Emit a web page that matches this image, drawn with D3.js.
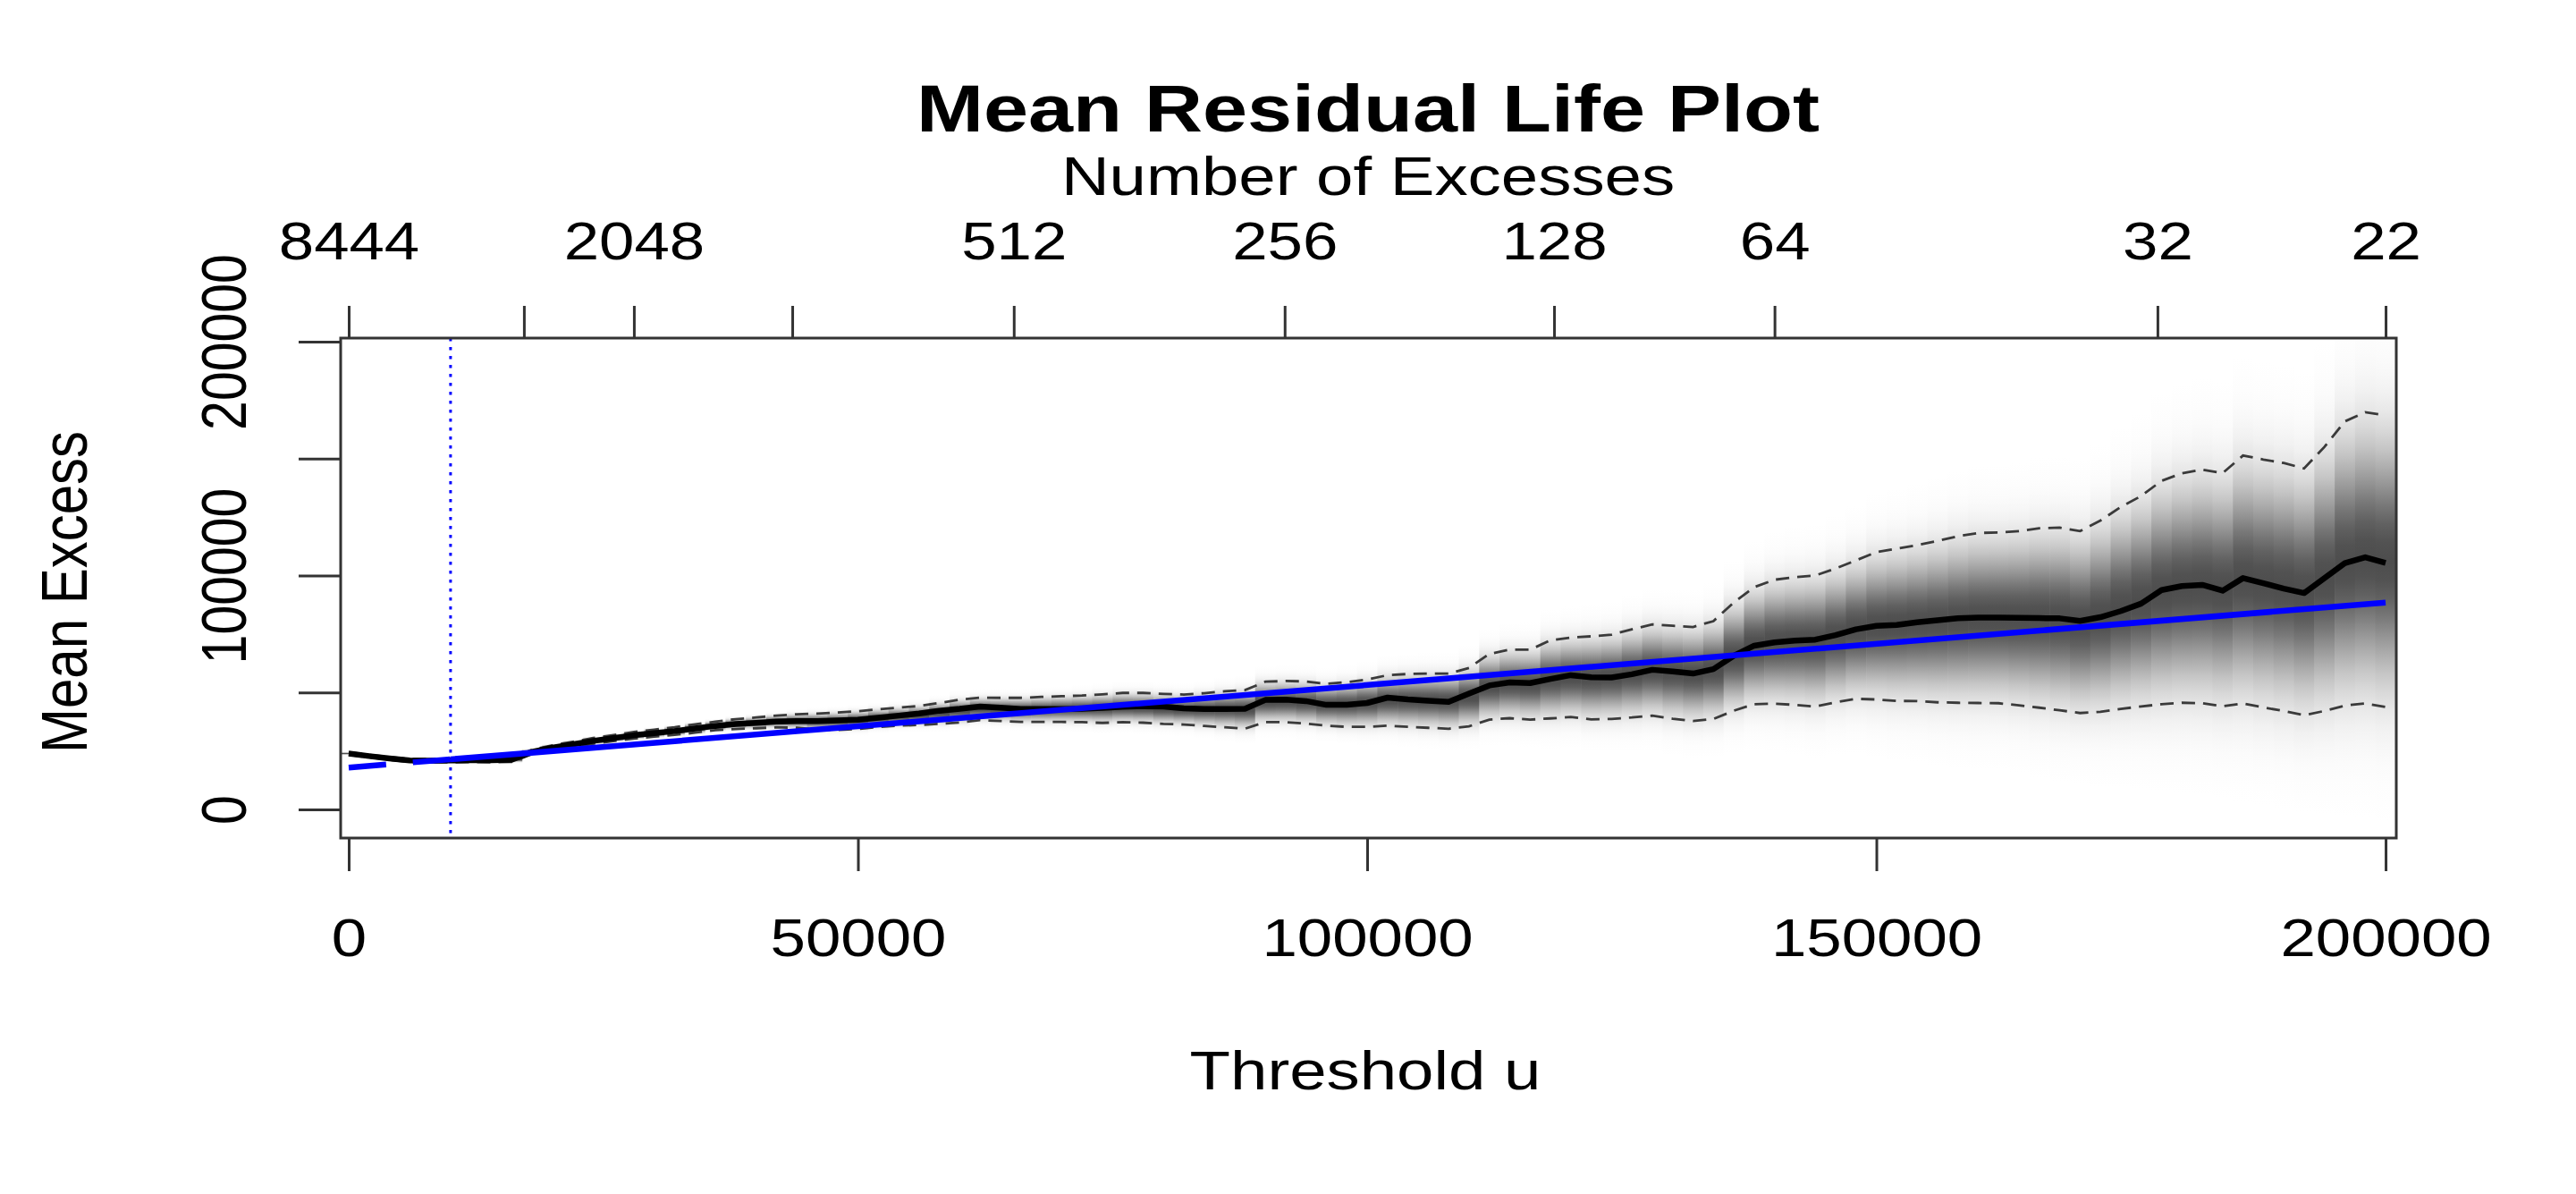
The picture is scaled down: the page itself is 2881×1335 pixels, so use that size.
<!DOCTYPE html>
<html>
<head>
<meta charset="utf-8">
<script src="https://cdn.jsdelivr.net/npm/d3@7"></script>
<style>
  body { margin: 0; background: #fff; }
  text { font-family: "Liberation Sans", Arial, sans-serif; fill: #000; }
</style>
</head>
<body>
<div id="chart"></div>
<script>
// thresholds u at which the mean excess was evaluated
var thresholds = [
  0,2000,4000,6000,8000,10000,12000,14000,16000,18000,
  20000,22000,24000,26000,28000,30000,32000,34000,36000,38000,
  40000,42000,44000,46000,48000,50000,52000,54000,56000,58000,
  60000,62000,64000,66000,68000,70000,72000,74000,76000,78000,
  80000,82000,84000,86000,88000,90000,92000,94000,96000,98000,
  100000,102000,104000,106000,108000,110000,112000,114000,116000,118000,
  120000,122000,124000,126000,128000,130000,132000,134000,136000,138000,
  140000,142000,144000,146000,148000,150000,152000,154000,156000,158000,
  160000,162000,164000,166000,168000,170000,172000,174000,176000,178000,
  180000,182000,184000,186000,188000,190000,192000,194000,196000,198000,
  200000];

// empirical mean excess (black line)
var meanExcess = [
  23900,22800,21800,20900,20800,20900,21000,21000,21200,24600,
  26400,27800,29300,30500,31700,32600,33500,34600,35700,36500,
  37000,37600,37800,37800,38000,38300,39200,40100,41000,42200,
  43000,44000,43500,42900,42900,42900,43000,43400,43900,44100,
  44000,43200,42900,42900,43000,46800,46900,46300,44700,44700,
  45500,47800,47000,46500,46000,49500,53000,54300,54000,55800,
  57400,56500,56400,57800,59700,59000,58100,60000,65700,70000,
  71400,72150,72600,74500,77000,78500,78900,80000,80900,81700,
  82000,82000,81900,81800,81700,80600,82200,84800,88000,93800,
  95500,96000,93500,98900,96700,94400,92500,98900,105300,107800,
  105400];

// 95% confidence limits (dashed lines)
var ciUpper = [
  24400,23350,22400,21550,21500,21650,21800,21850,22100,25550,
  27400,28900,30500,31800,33100,34100,35150,36400,37500,38600,
  39300,40100,40700,41000,41400,42000,42800,43500,44200,45500,
  46900,47800,47700,47700,48100,48400,48700,49200,49800,49800,
  49400,49100,49700,50500,51000,54600,54900,54700,53700,54400,
  55500,57400,57900,58100,58100,60500,66500,68300,68300,72300,
  73500,74000,74700,77000,79100,78500,78000,80500,88500,95000,
  98200,99300,100000,103000,106500,110000,111500,113000,114800,116800,
  118200,118400,119000,120200,120500,119000,123500,129300,134000,140500,
  143700,145300,143800,151300,149600,148100,145800,155000,165900,169800,
  168500];

var ciLower = [
  23400,22250,21200,20250,20100,20150,20200,20150,20300,23650,
  25400,26700,28100,29200,30300,31100,31850,32800,33900,34400,
  34700,35100,34900,34200,34000,34400,35200,35800,36100,36600,
  37200,38200,37800,37400,37400,37400,37300,37000,37300,37100,
  36600,36300,35700,35100,34500,37300,37300,36700,35800,35300,
  35300,35800,35300,34900,34500,35500,38400,39000,38400,38900,
  39500,38500,38700,39300,40100,38800,37800,38700,42200,45000,
  45200,44700,44000,45800,47300,47000,46400,46300,45800,45600,
  45500,45400,44500,43500,42400,41200,41700,43000,44000,45000,
  45600,45400,44100,45300,43600,42100,40300,42100,44400,45300,
  43800];

// fitted GPD mean excess for the trial threshold (blue line)
var tryThresh = 10000;
var fitU  = [0, 10000, 200000];
var fitME = [17900, 21430, 88460];

// top axis: number of excesses above threshold
var excessTicks  = [0, 17200, 28000, 43550, 65300, 91900, 118350, 140000, 177600, 200000];
var excessLabels = ["8444", "", "2048", "", "512", "256", "128", "64", "32", "22"];

var xTicks = [0, 50000, 100000, 150000, 200000];
var yTicks = [0, 50000, 100000, 150000, 200000];
var yTickLabels = ["0", "", "100000", "", "200000"];

var W = 2881, H = 1335;
var box = {left: 381, right: 2680, top: 378, bottom: 937};
var SX = 1.2; // glyphs in the picture are stretched horizontally

var svg = d3.select("#chart").append("svg")
    .attr("width", W)
    .attr("height", H);

svg.append("rect").attr("width", W).attr("height", H).attr("fill", "#fff");

var x = d3.scaleLinear().domain([-790, 201050]).range([box.left, box.right]);
var y = d3.scaleLinear().domain([-12240, 201530]).range([box.bottom, box.top]);

var defs = svg.append("defs");
defs.append("clipPath").attr("id", "plotclip")
  .append("rect")
    .attr("x", box.left).attr("y", box.top)
    .attr("width", box.right - box.left)
    .attr("height", box.bottom - box.top);

// one vertical gradient shared by all strips (normal density, +-3.5 sd)
var grad = defs.append("linearGradient")
    .attr("id", "dens")
    .attr("x1", 0).attr("y1", 0).attr("x2", 0).attr("y2", 1);
for (var k = 0; k <= 28; k++) {
  var z = -3.5 + k * 0.25;
  var g = 1 - 0.7 * Math.exp(-z * z / 2);
  var c = Math.round(g * 255);
  grad.append("stop")
    .attr("offset", (k / 28))
    .attr("stop-color", d3.rgb(c, c, c).formatHex());
}

var plot = svg.append("g").attr("clip-path", "url(#plotclip)");

var data = thresholds.map(function(u, i) {
  return {u: u, m: meanExcess[i], lo: ciLower[i], hi: ciUpper[i], i: i};
});

// sampling density strips
plot.selectAll("rect.strip")
  .data(data)
  .enter()
  .append("rect")
    .attr("class", "strip")
    .attr("x", function(d) {
      var prev = d.i > 0 ? thresholds[d.i - 1] : d.u - (thresholds[1] - thresholds[0]);
      return x((prev + d.u) / 2);
    })
    .attr("width", function(d) {
      var prev = d.i > 0 ? thresholds[d.i - 1] : d.u - (thresholds[1] - thresholds[0]);
      var next = d.i < thresholds.length - 1 ? thresholds[d.i + 1] : d.u + (thresholds[1] - thresholds[0]);
      return x((d.u + next) / 2) - x((prev + d.u) / 2) + 0.6;
    })
    .attr("y", function(d) {
      var mid = (d.lo + d.hi) / 2, sd = (d.hi - d.lo) / 3.92;
      return y(mid + 3.5 * sd);
    })
    .attr("height", function(d) {
      var mid = (d.lo + d.hi) / 2, sd = (d.hi - d.lo) / 3.92;
      return y(mid - 3.5 * sd) - y(mid + 3.5 * sd);
    })
    .attr("fill", "url(#dens)");

var line = d3.line()
    .x(function(d) { return x(d[0]); })
    .y(function(d) { return y(d[1]); });

// confidence limits
[ciUpper, ciLower].forEach(function(ci) {
  plot.append("path")
    .datum(thresholds.map(function(u, i) { return [u, ci[i]]; }))
    .attr("d", line)
    .attr("fill", "none")
    .attr("stroke", "#3a3a3a")
    .attr("stroke-width", 2.8)
    .attr("stroke-dasharray", "15,9");
});

// mean excess
plot.append("path")
  .datum(thresholds.map(function(u, i) { return [u, meanExcess[i]]; }))
  .attr("d", line)
  .attr("fill", "none")
  .attr("stroke", "#000")
  .attr("stroke-width", 6.5)
  .attr("stroke-linejoin", "round");

// trial threshold
plot.append("line")
  .attr("x1", x(tryThresh)).attr("x2", x(tryThresh))
  .attr("y1", box.top).attr("y2", box.bottom)
  .attr("stroke", "#0000ff")
  .attr("stroke-width", 3)
  .attr("stroke-dasharray", "3.5,6.5");

// fitted line: dashed below the trial threshold, solid above
var fitPts = fitU.map(function(u, i) { return [u, fitME[i]]; });
plot.append("path")
  .datum(fitPts.filter(function(p) { return p[0] <= tryThresh; }))
  .attr("d", line)
  .attr("fill", "none")
  .attr("stroke", "#0000ff")
  .attr("stroke-width", 6.5)
  .attr("stroke-dasharray", "42,30");
plot.append("path")
  .datum(fitPts.filter(function(p) { return p[0] >= tryThresh; }))
  .attr("d", line)
  .attr("fill", "none")
  .attr("stroke", "#0000ff")
  .attr("stroke-width", 6.5);

// frame
svg.append("rect")
  .attr("x", box.left).attr("y", box.top)
  .attr("width", box.right - box.left)
  .attr("height", box.bottom - box.top)
  .attr("fill", "none")
  .attr("stroke", "#333")
  .attr("stroke-width", 3);

function styleAxis(g) {
  g.attr("font-size", 59)
   .attr("font-family", "'Liberation Sans', Arial, sans-serif")
   .attr("color", "#333");
  g.select(".domain").remove();
  g.selectAll(".tick line").attr("stroke-width", 3);
  g.selectAll(".tick text").attr("fill", "#000");
}

// bottom axis
var gx = svg.append("g")
  .attr("transform", "translate(0," + box.bottom + ")")
  .call(d3.axisBottom(x).tickValues(xTicks).tickFormat(d3.format("d")).tickSize(37).tickPadding(53))
  .call(styleAxis);
gx.selectAll(".tick text").attr("transform", "scale(" + SX + ",1)");

// top axis
var gt = svg.append("g")
  .attr("transform", "translate(0," + box.top + ")")
  .call(d3.axisTop(x).tickValues(excessTicks)
        .tickFormat(function(d, i) { return excessLabels[i]; })
        .tickSize(36).tickPadding(52))
  .call(styleAxis);
gt.selectAll(".tick text").attr("transform", "scale(" + SX + ",1)");

// left axis
var gy = svg.append("g")
  .attr("transform", "translate(" + box.left + ",0)")
  .call(d3.axisLeft(y).tickValues(yTicks)
        .tickFormat(function(d, i) { return yTickLabels[i]; })
        .tickSize(47))
  .call(styleAxis);
gy.selectAll(".tick text")
  .attr("x", 0).attr("y", 0).attr("dy", null)
  .attr("text-anchor", "middle")
  .attr("transform", "translate(-106,0) scale(" + SX + ",1) rotate(-90)");

// titles
function label(txt, tx, ty, size, weight, rot) {
  svg.append("text")
    .attr("transform", "translate(" + tx + "," + ty + ") scale(" + SX + ",1)" + (rot ? " rotate(-90)" : ""))
    .attr("text-anchor", "middle")
    .attr("font-size", size)
    .attr("font-weight", weight)
    .text(txt);
}
label("Mean Residual Life Plot", 1530, 147, 75, "bold", false);
label("Number of Excesses", 1530, 218, 62, "normal", false);
label("Threshold u", 1527, 1218, 62, "normal", false);
label("Mean Excess", 97, 662, 60, "normal", true);
</script>
</body>
</html>
